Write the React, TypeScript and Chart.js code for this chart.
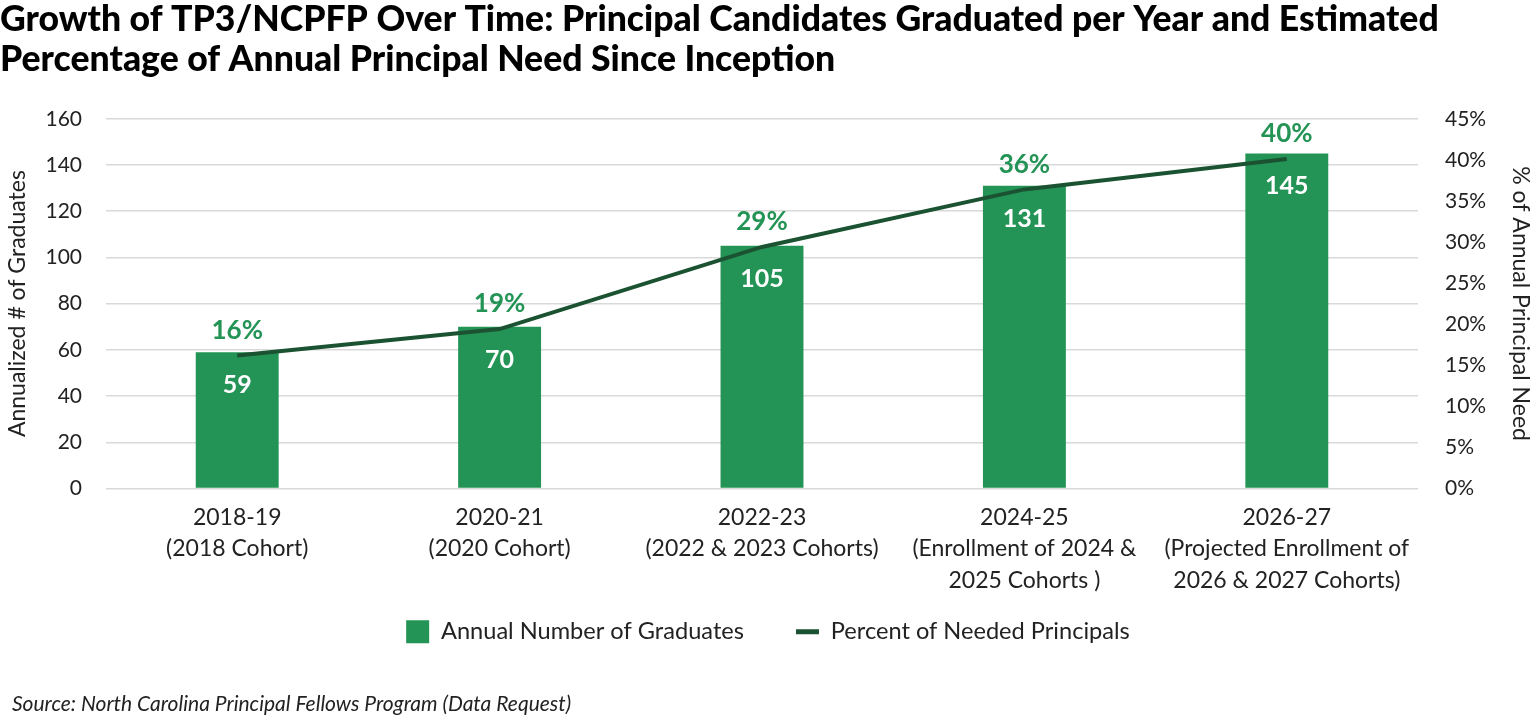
import React, { useEffect, useRef } from "react";
import { Chart, registerables } from "chart.js";

Chart.register(...registerables);

const TITLE_LINES = [
  "Growth of TP3/NCPFP Over Time: Principal Candidates Graduated per Year and Estimated",
  "Percentage of Annual Principal Need Since Inception",
];
const CATEGORIES = [
  ["2018-19", "(2018 Cohort)"],
  ["2020-21", "(2020 Cohort)"],
  ["2022-23", "(2022 & 2023 Cohorts)"],
  ["2024-25", "(Enrollment of 2024 &", "2025 Cohorts )"],
  ["2026-27", "(Projected Enrollment of", "2026 & 2027 Cohorts)"],
];
const GRADUATES = [59, 70, 105, 131, 145];
const PERCENT_NEEDED = [16.2, 19.4, 29.4, 36.4, 40.1];
const SERIES_NAMES = ["Annual Number of Graduates", "Percent of Needed Principals"];
const LEFT_AXIS_TITLE = "Annualized # of Graduates";
const RIGHT_AXIS_TITLE = "% of Annual Principal Need";
const SOURCE_TEXT = "Source: North Carolina Principal Fellows Program (Data Request)";

const BAR_GREEN = "#239455";
const LINE_GREEN = "#1b5332";
const TEXT = "#222222";
const FONT = "Lato, 'Open Sans', sans-serif";

const valueLabels = {
  id: "valueLabels",
  afterLayout(chart: any) {
    // lift the legend row into place (x-axis box is kept tall so 3-line labels aren't clipped)
    const lg = chart.legend;
    if (lg) {
      lg.top -= 24.5;
      lg.bottom -= 24.5;
    }
  },
  afterDatasetsDraw(chart: any) {
    const ctx = chart.ctx;
    const barMeta = chart.getDatasetMeta(0);
    const lineMeta = chart.getDatasetMeta(1);
    ctx.save();
    ctx.textAlign = "center";
    ctx.textBaseline = "middle";
    ctx.fillStyle = "#ffffff";
    ctx.font = `bold 25px ${FONT}`;
    barMeta.data.forEach((bar: any, i: number) => {
      ctx.fillText(String(GRADUATES[i]), bar.x, bar.y + 33);
    });
    ctx.fillStyle = BAR_GREEN;
    ctx.font = `bold 26px ${FONT}`;
    lineMeta.data.forEach((pt: any, i: number) => {
      ctx.fillText(`${Math.round(PERCENT_NEEDED[i])}%`, pt.x, pt.y - 25);
    });
    ctx.restore();
  },
};

export default function App() {
  const canvasRef = useRef<HTMLCanvasElement | null>(null);

  useEffect(() => {
    if (!canvasRef.current) return;
    Chart.defaults.font.family = FONT;
    const chart = new Chart(canvasRef.current, {
      type: "bar",
      data: {
        labels: CATEGORIES,
        datasets: [
          {
            type: "bar",
            label: SERIES_NAMES[0],
            data: GRADUATES,
            backgroundColor: BAR_GREEN,
            borderWidth: 0,
            barPercentage: 0.316,
            categoryPercentage: 1,
            yAxisID: "y",
            order: 1,
          },
          {
            type: "line",
            label: SERIES_NAMES[1],
            data: PERCENT_NEEDED,
            borderColor: LINE_GREEN,
            backgroundColor: LINE_GREEN,
            borderWidth: 4,
            pointRadius: 0,
            tension: 0,
            yAxisID: "y1",
            order: 0,
          },
        ] as any,
      },
      options: {
        responsive: false,
        animation: false,
        layout: { padding: { bottom: 38.9 } },
        plugins: {
          tooltip: { enabled: false },
          title: {
            display: true,
            text: TITLE_LINES,
            align: "start",
            color: "#000000",
            font: { family: FONT, size: 35.6, weight: 900, lineHeight: 1.12 },
            padding: { top: 0, bottom: 39 },
          },
          legend: {
            position: "bottom",
            labels: {
              usePointStyle: true,
              pointStyleWidth: 23,
              boxHeight: 23,
              padding: 52,
              color: TEXT,
              font: { family: FONT, size: 23.6 },
              sort: (a: any, b: any) => a.datasetIndex - b.datasetIndex,
              generateLabels(chart: any) {
                const items = (Chart.defaults.plugins.legend.labels as any).generateLabels(chart);
                return items.map((it: any) => ({
                  ...it,
                  pointStyle: it.datasetIndex === 0 ? "rect" : "line",
                  lineWidth: it.datasetIndex === 0 ? 0 : 5,
                }));
              },
            },
          },
        },
        scales: {
          x: {
            grid: { display: false },
            border: { display: false },
            ticks: {
              color: TEXT,
              font: { family: FONT, size: 23, lineHeight: 1.35 },
              padding: 6,
              maxRotation: 0,
              autoSkip: false,
            },
            afterFit(s: any) {
              s.height = 104;
            },
          },
          y: {
            position: "left",
            min: 0,
            max: 160,
            ticks: {
              stepSize: 20,
              padding: 24,
              color: TEXT,
              font: { family: FONT, size: 21 },
            },
            grid: { color: "#d9d9d9", lineWidth: 1.5, drawTicks: false },
            border: { display: false },
            title: {
              display: true,
              text: LEFT_AXIS_TITLE,
              color: TEXT,
              font: { family: FONT, size: 23 },
              padding: { top: 4, bottom: 0 },
            },
            afterFit(s: any) {
              s.width = 106;
            },
          },
          y1: {
            position: "right",
            min: 0,
            max: 45,
            ticks: {
              stepSize: 5,
              padding: 27,
              color: TEXT,
              font: { family: FONT, size: 21 },
              callback: (v: any) => `${v}%`,
            },
            grid: { display: false, drawTicks: false },
            border: { display: false },
            title: {
              display: true,
              text: RIGHT_AXIS_TITLE,
              color: TEXT,
              font: { family: FONT, size: 23 },
              padding: { top: 2, bottom: 0 },
            },
            afterFit(s: any) {
              s.width = 118;
            },
          },
        },
      } as any,
      plugins: [valueLabels],
    });
    return () => chart.destroy();
  }, []);

  return (
    <div
      style={{
        position: "absolute",
        left: 0,
        top: 0,
        width: 1536,
        height: 717,
        background: "#ffffff",
        overflow: "hidden",
      }}
    >
      <canvas ref={canvasRef} width={1536} height={717} style={{ display: "block" }} />
      <div
        style={{
          position: "absolute",
          left: 12,
          top: 692,
          fontFamily: FONT,
          fontStyle: "italic",
          fontSize: 21,
          lineHeight: "22px",
          color: TEXT,
          whiteSpace: "nowrap",
        }}
      >
        {SOURCE_TEXT}
      </div>
    </div>
  );
}
